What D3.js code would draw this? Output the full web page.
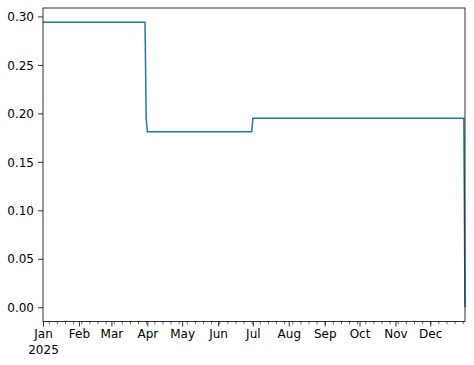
<!DOCTYPE html>
<html><head><meta charset="utf-8">
<script src="https://cdn.jsdelivr.net/npm/d3@7"></script>
<style>body{margin:0;background:#fff}svg{display:block}text{font-family:"DejaVu Sans",sans-serif;font-size:12px;fill:#000}</style>
</head><body><svg id="c" width="474" height="365"></svg>
<script>
// key points of the daily series (value changes)
const dates = ["2025-01-01","2025-03-30","2025-03-31","2025-04-01","2025-06-30","2025-07-01","2025-12-30","2025-12-31"];
const values = [0.294,0.294,0.195,0.181,0.181,0.195,0.195,0.0];
const yTicks = [0.00,0.05,0.10,0.15,0.20,0.25,0.30];
const monthLabels = ["Jan","Feb","Mar","Apr","May","Jun","Jul","Aug","Sep","Oct","Nov","Dec"];

const parse = d3.utcParse("%Y-%m-%d");
const data = dates.map((d,i)=>({x:parse(d),y:values[i]}));
const svg = d3.select("#c");
const L=43,R=465,T=8,B=321.5;
const x = d3.scaleUtc().domain([parse("2025-01-01"),parse("2025-12-31")]).range([L,R]);
const ymax=d3.max(values), ymin=0, pad=(ymax-ymin)*0.05;
const y = d3.scaleLinear().domain([ymin-pad,ymax+pad]).range([B,T]);

// y axis
const ya = svg.append("g").attr("transform",`translate(${L},0)`)
  .call(d3.axisLeft(y).tickValues(yTicks).tickFormat(d3.format(".2f")).tickSize(5).tickPadding(4));
ya.select(".domain").remove();
ya.selectAll("line").attr("stroke","#000").attr("stroke-width",0.8);
ya.selectAll("text").style("font-size","12px").attr("dy","0.35em");

// x axis: major monthly, minor weekly (Mondays)
const majors = d3.utcMonth.range(parse("2025-01-01"),parse("2025-12-31"));
const minors = d3.utcMonday.range(parse("2025-01-01"),parse("2026-01-01")).filter(d=>d<=x.domain()[1]);
const xmin = svg.append("g").attr("transform",`translate(0,${B})`)
  .call(d3.axisBottom(x).tickValues(minors).tickFormat("").tickSize(2.8));
xmin.select(".domain").remove();
xmin.selectAll("line").attr("stroke","#000").attr("stroke-width",0.6);
const xa = svg.append("g").attr("transform",`translate(0,${B})`)
  .call(d3.axisBottom(x).tickValues(majors).tickFormat((d,i)=>monthLabels[i]).tickSize(5).tickPadding(3));
xa.select(".domain").remove();
xa.selectAll("line").attr("stroke","#000").attr("stroke-width",0.8);
xa.selectAll("text").style("font-size","12px");
xa.selectAll(".tick").filter((d,i)=>i===0).append("text")
  .attr("y",24).attr("dy","0.71em").attr("text-anchor","middle").style("font-size","12px").text("2025");

// line
svg.append("path").datum(data)
  .attr("fill","none").attr("stroke","#1f77b4").attr("stroke-width",1.5)
  .attr("d",d3.line().x(d=>x(d.x)).y(d=>y(d.y)));

// frame
svg.append("rect").attr("x",L).attr("y",T).attr("width",R-L).attr("height",B-T)
  .attr("fill","none").attr("stroke","#000").attr("stroke-width",0.8);
</script></body></html>
